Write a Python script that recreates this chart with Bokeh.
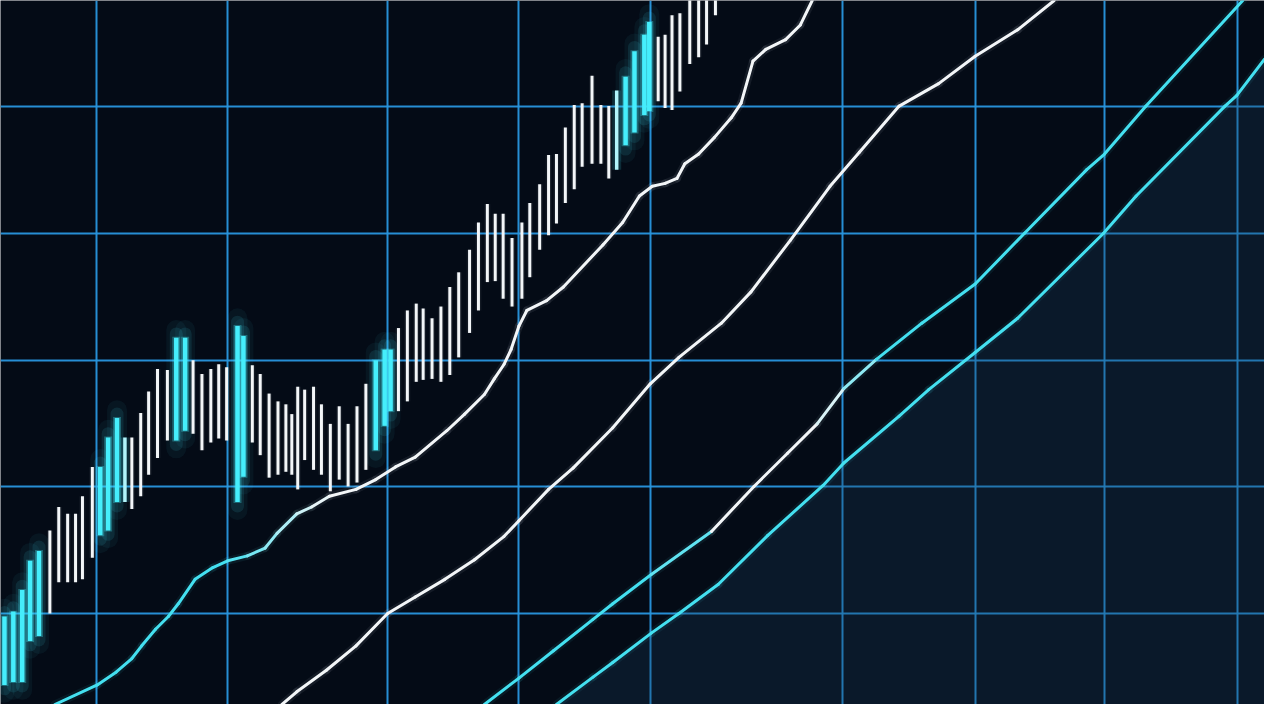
import numpy as np
from bokeh.plotting import figure
from bokeh.models import Range1d, FixedTicker
from bokeh.embed import file_html
from bokeh.resources import INLINE

# ---------------- data (x in time units, y in price units) ----------------
bar_x = [4, 13, 22, 30, 39, 50, 59, 68, 76, 83, 93, 101, 109, 118, 126, 133, 142, 150, 159, 169,
         178, 187, 195, 204, 213, 221, 229, 240, 246, 255, 263, 272, 281, 289, 295, 301, 308, 317, 325,
         334, 343, 352, 361, 370, 380, 389, 395, 403, 412, 421, 428, 437, 446, 455, 464, 475, 484,
         493, 501, 509, 518, 528, 536, 546, 555, 563, 572, 581, 589, 599, 608, 616, 624, 633, 642,
         652, 657, 666, 673, 680, 688, 698, 707, 715, 724]
bar_high = [90, 95, 117, 147, 157, 178, 202, 195, 195, 213, 243, 243, 273, 293, 273, 273, 298, 320, 343, 342,
            375, 375, 352, 338, 343, 348, 345, 387, 377, 347, 338, 318, 310, 307, 297, 325, 322, 325, 307,
            287, 305, 287, 305, 328, 352, 363, 363, 385, 403, 410, 405, 395, 407, 427, 442, 465, 493,
            512, 502, 502, 477, 493, 513, 532, 562, 563, 590, 613, 615, 643, 613, 612, 628, 642, 668,
            685, 698, 683, 685, 705, 707, 730, 730, 730, 730]
bar_low = [20, 23, 23, 65, 70, 93, 125, 125, 125, 128, 150, 173, 178, 207, 207, 200, 213, 235, 252, 270,
           270, 280, 277, 260, 268, 272, 270, 207, 233, 268, 255, 232, 235, 238, 235, 220, 250, 240, 235,
           218, 230, 223, 227, 240, 260, 285, 300, 300, 310, 330, 332, 333, 330, 337, 355, 380, 403,
           432, 433, 415, 407, 415, 437, 465, 480, 492, 513, 527, 550, 553, 553, 538, 547, 572, 585,
           603, 607, 617, 610, 608, 627, 655, 662, 675, 705]
# highlight of each bar: c = glowing cyan, l = light cyan, w = white
bar_tone = list("ccccc" + "wwwwww" + "ccc" + "l" + "wwwww" + "cc" + "wwwww" + "cc" +
                "w" * 15 + "ccc" + "w" * 25 + "l" + "cccc" + "w" * 8)

ma1_x = [55, 98, 117, 133, 143, 157, 170, 180, 197, 215, 230, 250, 268, 280, 300, 315, 333, 360, 380, 400,
         420, 452, 470, 490, 500, 510, 517, 525, 533, 553, 570, 610, 630, 647, 660, 673, 685, 693, 707,
         723, 740, 750, 762, 775, 795, 810, 822]
ma1_y = [0, 20, 33, 47, 60, 77, 90, 103, 128, 140, 147, 152, 160, 175, 195, 202, 213, 220, 230, 243,
         253, 280, 297, 317, 333, 348, 363, 387, 403, 413, 427, 470, 493, 520, 530, 533, 538, 553, 563,
         580, 600, 615, 658, 670, 680, 695, 720]

ma2_x = [285, 300, 330, 360, 392, 420, 450, 480, 510, 525, 555, 580, 620, 658, 687, 730, 760, 800, 840,
         870, 910, 950, 987, 1030, 1067]
ma2_y = [0, 13, 35, 60, 93, 110, 128, 148, 172, 188, 220, 242, 283, 328, 355, 390, 422, 475, 530,
         565, 612, 635, 663, 690, 720]

ma3_x = [490, 525, 560, 600, 620, 659, 720, 763, 797, 827, 854, 887, 933, 987, 1037, 1100, 1118, 1160, 1258]
ma3_y = [0, 27, 55, 87, 103, 133, 177, 223, 257, 287, 323, 353, 390, 430, 482, 547, 563, 612, 720]

ma4_x = [563, 600, 620, 659, 687, 727, 777, 833, 854, 910, 940, 987, 1030, 1117, 1150, 1240, 1252, 1280]
ma4_y = [0, 28, 43, 73, 93, 123, 173, 224, 247, 295, 322, 360, 395, 482, 520, 612, 623, 660]

grid_x = [97, 230, 392, 525, 658, 853, 987, 1118, 1253]
grid_y = [93, 223, 352, 482, 612]

# ---------------- styles ----------------
BG = "#040b16"
CYAN = "#44e0f0"
BAR_CYAN = "#45eefc"
WHITE = "#f3f6f8"
GRID = "#2896de"


def mix(c1, c2, t):
    a = [int(c1[i:i + 2], 16) for i in (1, 3, 5)]
    b = [int(c2[i:i + 2], 16) for i in (1, 3, 5)]
    return "#%02x%02x%02x" % tuple(int(round(a[k] + (b[k] - a[k]) * t)) for k in range(3))


p = figure(width=1264, height=704, x_range=Range1d(0, 1280), y_range=Range1d(0, 720),
           output_backend="svg", toolbar_location=None, min_border=0,
           background_fill_color=BG, border_fill_color=BG, outline_line_color=None)
p.xaxis.visible = False
p.yaxis.visible = False
p.xgrid.ticker = FixedTicker(ticks=grid_x)
p.ygrid.ticker = FixedTicker(ticks=grid_y)
p.grid.grid_line_color = GRID
p.grid.grid_line_width = 2
p.grid.grid_line_alpha = 0.95

# lighter region below the lowest average
p.varea(x=ma4_x, y1=[0] * len(ma4_x), y2=ma4_y, fill_color="#1c3a58", fill_alpha=0.3)

# bars
bx = np.array(bar_x, float)
bh = np.array(bar_high, float)
bl = np.array(bar_low, float)
tone = np.array(bar_tone)

c = tone == "c"
l = tone == "l"
w = tone == "w"

# glow layers
p.segment(x0=bx[c], y0=bl[c] - 8, x1=bx[c], y1=bh[c] + 8, line_color=BAR_CYAN, line_width=20, line_alpha=0.05, line_cap="round")
p.segment(x0=bx[c], y0=bl[c] - 4, x1=bx[c], y1=bh[c] + 4, line_color=BAR_CYAN, line_width=13, line_alpha=0.1, line_cap="round")
p.segment(x0=bx[c], y0=bl[c] - 1, x1=bx[c], y1=bh[c] + 1, line_color=BAR_CYAN, line_width=8, line_alpha=0.3)
p.segment(x0=bx[l], y0=bl[l], x1=bx[l], y1=bh[l], line_color=BAR_CYAN, line_width=9, line_alpha=0.15)
p.segment(x0=bx[w], y0=bl[w], x1=bx[w], y1=bh[w], line_color="#ffffff", line_width=6, line_alpha=0.06)
# cores
p.segment(x0=bx[w], y0=bl[w], x1=bx[w], y1=bh[w], line_color=WHITE, line_width=3)
p.segment(x0=bx[l], y0=bl[l], x1=bx[l], y1=bh[l], line_color="#b2f4fb", line_width=3.5)
p.segment(x0=bx[c], y0=bl[c], x1=bx[c], y1=bh[c], line_color=BAR_CYAN, line_width=4.5)


def gradient_line(xs, ys, colorfn, width=3):
    xs = np.array(xs, float)
    ys = np.array(ys, float)
    xm = (xs[:-1] + xs[1:]) / 2
    cols = [colorfn(v) for v in xm]
    p.segment(x0=xs[:-1], y0=ys[:-1], x1=xs[1:], y1=ys[1:], line_color=cols,
              line_width=width + 5, line_alpha=0.07, line_cap="round")
    p.segment(x0=xs[:-1], y0=ys[:-1], x1=xs[1:], y1=ys[1:], line_color=cols,
              line_width=width, line_cap="round")


gradient_line(ma1_x, ma1_y, lambda v: mix(CYAN, WHITE, float(np.clip((v - 230) / 100, 0, 1))))
gradient_line(ma2_x, ma2_y, lambda v: WHITE)
gradient_line(ma3_x, ma3_y, lambda v: mix(CYAN, WHITE, float(np.clip((v - 680) / 60, 0, 1) * np.clip((900 - v) / 70, 0, 1))))
gradient_line(ma4_x, ma4_y, lambda v: CYAN)

open("out.html", "w").write(file_html(p, INLINE))
